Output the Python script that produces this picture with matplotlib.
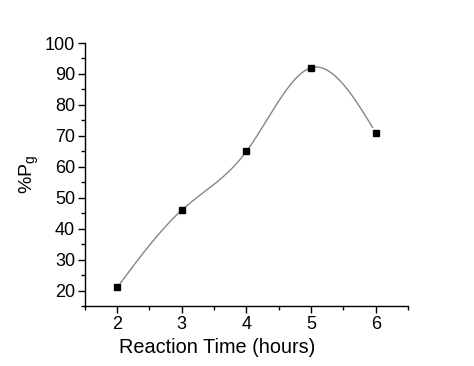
import numpy as np
import matplotlib
matplotlib.use("Agg")
import matplotlib.pyplot as plt
from matplotlib.ticker import MultipleLocator

plt.rcParams['font.family'] = ['Liberation Sans', 'DejaVu Sans']
plt.rcParams['mathtext.fontset'] = 'custom'
plt.rcParams['mathtext.rm'] = 'Liberation Sans'
plt.rcParams['mathtext.it'] = 'Liberation Sans'

hours = [2, 3, 4, 5, 6]
pg = [21, 46, 65, 92, 71]


def natural_spline(x, y, xs):
    x = np.asarray(x, float); y = np.asarray(y, float)
    n = len(x)
    h = np.diff(x)
    A = np.zeros((n, n)); b = np.zeros(n)
    A[0, 0] = A[-1, -1] = 1
    for i in range(1, n - 1):
        A[i, i - 1] = h[i - 1]
        A[i, i] = 2 * (h[i - 1] + h[i])
        A[i, i + 1] = h[i]
        b[i] = 3 * ((y[i + 1] - y[i]) / h[i] - (y[i] - y[i - 1]) / h[i - 1])
    c = np.linalg.solve(A, b)
    out = np.empty_like(xs)
    for k, xv in enumerate(xs):
        i = min(max(np.searchsorted(x, xv) - 1, 0), n - 2)
        dx = xv - x[i]
        bi = (y[i + 1] - y[i]) / h[i] - h[i] * (2 * c[i] + c[i + 1]) / 3
        di = (c[i + 1] - c[i]) / (3 * h[i])
        out[k] = y[i] + bi * dx + c[i] * dx ** 2 + di * dx ** 3
    return out


fig = plt.figure(figsize=(4.74, 3.66), dpi=100)
ax = fig.add_axes([0.179, 0.164, 0.682, 0.7185])

xs = np.linspace(hours[0] + 0.05, hours[-1] - 0.05, 300)
ax.plot(xs, natural_spline(hours, pg, xs), color='#858585', lw=1.0)
ax.plot(hours, pg, 's', color='black', markersize=4.5, linestyle='none')

ax.set_xlim(1.5, 6.5)
ax.set_ylim(15, 100)
ax.xaxis.set_major_locator(MultipleLocator(1))
ax.xaxis.set_minor_locator(MultipleLocator(0.5))
ax.yaxis.set_major_locator(MultipleLocator(10))
ax.yaxis.set_minor_locator(MultipleLocator(5))
ax.set_yticks(range(20, 101, 10))

for s in ['top', 'right']:
    ax.spines[s].set_visible(False)
for s in ['left', 'bottom']:
    ax.spines[s].set_linewidth(1.0)

ax.tick_params(which='major', direction='out', length=5, width=1, labelsize=13, pad=2)
ax.tick_params(which='minor', direction='out', length=3, width=1)

ax.set_xlabel('Reaction Time (hours)', fontsize=14.3, labelpad=4, x=0.41)
ax.set_ylabel('%P$_{\\mathregular{g}}$', fontsize=14, labelpad=3)

fig.savefig('out.png', dpi=100)
